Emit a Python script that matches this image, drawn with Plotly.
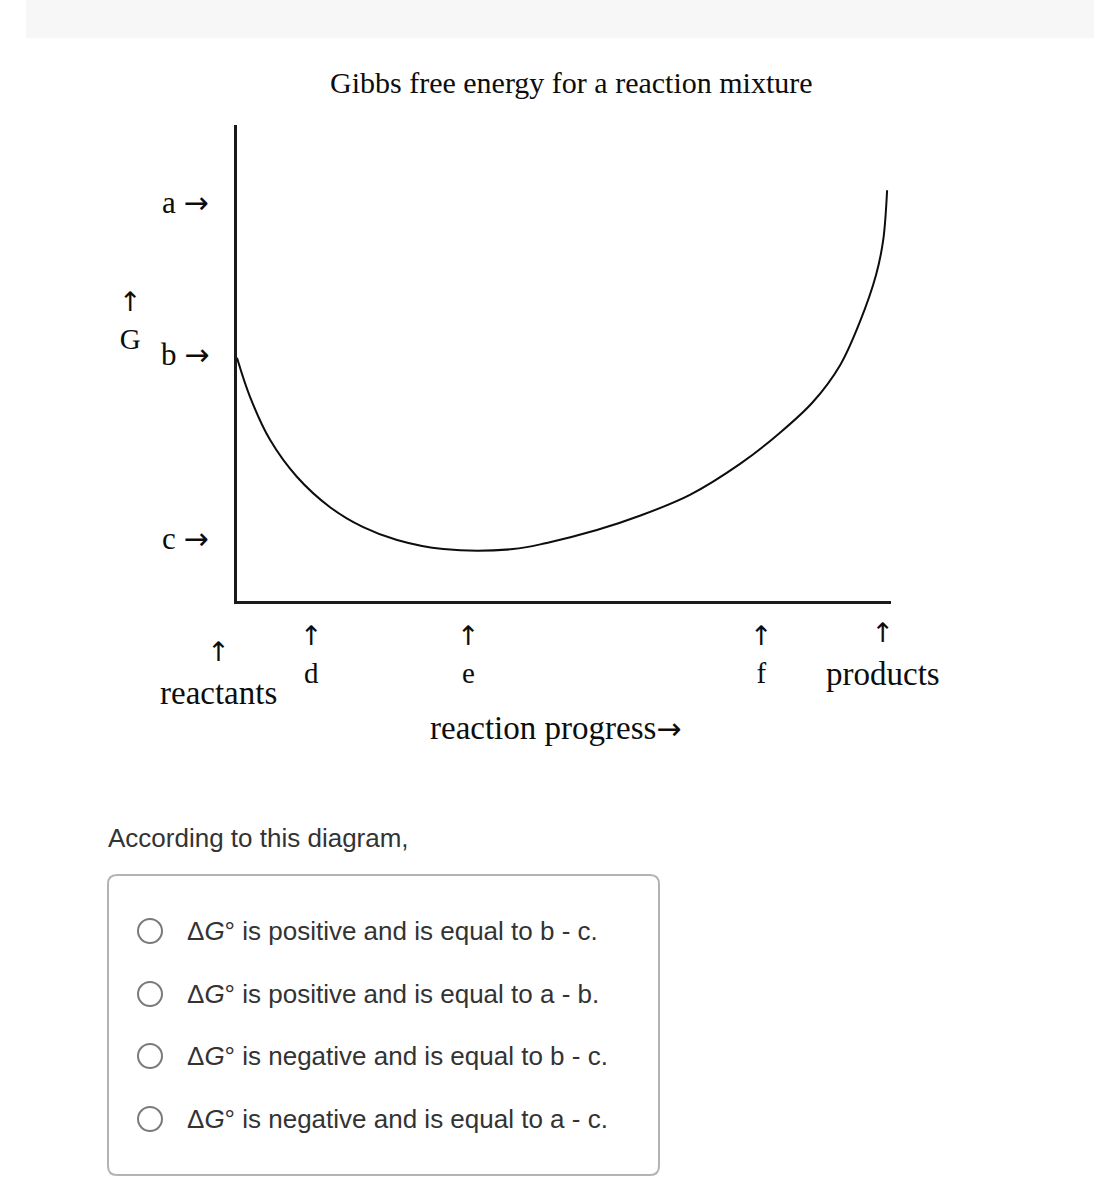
import plotly.graph_objects as go

# ---------------- data ----------------
progress = [0, 2.0, 5.1, 9.2, 14.3, 19.4, 24.6, 31.7, 42.4, 47.6, 55.3, 61.9,
            69.6, 77.3, 83.4, 88.5, 92.7, 95.7, 98.2, 99.3, 99.9]
free_energy = [51.1, 42.9, 33.8, 26.1, 19.7, 15.5, 12.8, 10.9, 10.9, 12.2, 14.9, 17.9,
               22.3, 28.8, 35.3, 41.8, 49.6, 58.6, 68.5, 75.8, 86.3]

level_labels = ["a", "b", "c"]
level_values = [83.8, 51.7, 13.2]

marker_labels = ["d", "e", "f"]
marker_positions = [11.5, 35.5, 80.6]

end_labels = ["reactants", "products"]
end_positions = [0, 100]

title_text = "Gibbs free energy for a reaction mixture"
xaxis_text = "reaction progress"
yaxis_text = "G"
question_text = "According to this diagram,"
options = [
    "Δ<i>G</i>° is positive and is equal to b - c.",
    "Δ<i>G</i>° is positive and is equal to a - b.",
    "Δ<i>G</i>° is negative and is equal to b - c.",
    "Δ<i>G</i>° is negative and is equal to a - c.",
]

# ---------------- page geometry ----------------
W, H = 1094, 1182


def px(x):
    return x / W


def py(y):
    return 1 - y / H


XDOM = [px(237), px(891)]
XRANGE = [0, 100.5]
YDOM = [py(601), py(125)]
YRANGE = [0, 100]


def xp(v):
    """diagram x value -> paper fraction (through the x axis scale)"""
    return XDOM[0] + (v - XRANGE[0]) / (XRANGE[1] - XRANGE[0]) * (XDOM[1] - XDOM[0])


def yp(v):
    """diagram y value -> paper fraction (through the y axis scale)"""
    return YDOM[0] + (v - YRANGE[0]) / (YRANGE[1] - YRANGE[0]) * (YDOM[1] - YDOM[0])


SERIF = "Liberation Serif, Times New Roman, serif"
SANS = "Liberation Sans, Arial, Helvetica, sans-serif"
INK = "#0d0d0d"

RIGHT = '<span style="font-family:DejaVu Sans;font-size:30px">→</span>'
UP = '<span style="font-family:DejaVu Sans;font-size:27px">↑</span>'

fig = go.Figure()
fig.add_trace(go.Scatter(
    x=progress, y=free_energy, mode="lines",
    line=dict(color=INK, width=2, shape="spline", smoothing=1.0),
    cliponaxis=False, hoverinfo="skip",
))

annotations = []


def note(x, y, text, size, family=SERIF, color=INK, xanchor="center", yanchor="middle"):
    annotations.append(dict(x=x, y=y, xref="paper", yref="paper", text=text,
                            showarrow=False, font=dict(family=family, size=size, color=color),
                            xanchor=xanchor, yanchor=yanchor))


# title
note(px(571), py(82), title_text, 30)
# energy level labels
for lab, val in zip(level_labels, level_values):
    note(xp(-4.0), yp(val), f"{lab} {RIGHT}", 31, xanchor="right")
# G axis label
note(xp(-16.4), yp(59), f"{UP}<br>{yaxis_text}", 29)
# progress markers
for lab, pos in zip(marker_labels, marker_positions):
    note(xp(pos), yp(-11.2), f"{UP}<br>{lab}", 29)
# ends
note(xp(end_positions[0] - 2.8), yp(-15.2), f"{UP}<br>{end_labels[0]}", 33)
note(xp(end_positions[1] - 0.8), yp(-11.2), f"{UP}<br>{end_labels[1]}", 33)
# x axis title
note(xp(49), yp(-26.7), f"{xaxis_text}{RIGHT}", 33)

# question
note(px(106), py(838), question_text, 26, family=SANS, color="#333333", xanchor="left")
option_y = [931, 994, 1056, 1119]
shapes = []
for txt, oy in zip(options, option_y):
    note(px(185), py(oy), txt, 26, family=SANS, color="#333333", xanchor="left")
    r = 12
    shapes.append(dict(type="circle", xref="paper", yref="paper",
                       x0=px(150 - r), x1=px(150 + r), y0=py(oy + r), y1=py(oy - r),
                       line=dict(color="#7a7a7a", width=2), fillcolor="white"))

# grey band at top
shapes.append(dict(type="rect", xref="paper", yref="paper",
                   x0=px(26), x1=px(1094), y0=py(0), y1=py(38),
                   line=dict(width=0), fillcolor="#f7f7f7", layer="below"))

# rounded box
x0, x1, y0, y1, r = 108, 659, 875, 1175, 9
path = (f"M {px(x0 + r)},{py(y0)} L {px(x1 - r)},{py(y0)} "
        f"Q {px(x1)},{py(y0)} {px(x1)},{py(y0 + r)} "
        f"L {px(x1)},{py(y1 - r)} Q {px(x1)},{py(y1)} {px(x1 - r)},{py(y1)} "
        f"L {px(x0 + r)},{py(y1)} Q {px(x0)},{py(y1)} {px(x0)},{py(y1 - r)} "
        f"L {px(x0)},{py(y0 + r)} Q {px(x0)},{py(y0)} {px(x0 + r)},{py(y0)} Z")
shapes.append(dict(type="path", xref="paper", yref="paper", path=path,
                   line=dict(color="#b3b3b3", width=2), fillcolor="rgba(0,0,0,0)"))

axis_common = dict(showline=True, linecolor="#1a1a1a", linewidth=2.5,
                   showticklabels=False, ticks="", showgrid=False,
                   zeroline=False, fixedrange=True)

fig.update_layout(
    width=W, height=H,
    margin=dict(l=0, r=0, t=0, b=0),
    paper_bgcolor="white", plot_bgcolor="rgba(0,0,0,0)",
    showlegend=False,
    xaxis=dict(domain=XDOM, range=XRANGE, **axis_common),
    yaxis=dict(domain=YDOM, range=YRANGE, **axis_common),
    annotations=annotations,
    shapes=shapes,
)

fig.write_html("out.html", config={"displayModeBar": False},
               post_script="document.body.style.margin='0';document.body.style.overflow='hidden';")
